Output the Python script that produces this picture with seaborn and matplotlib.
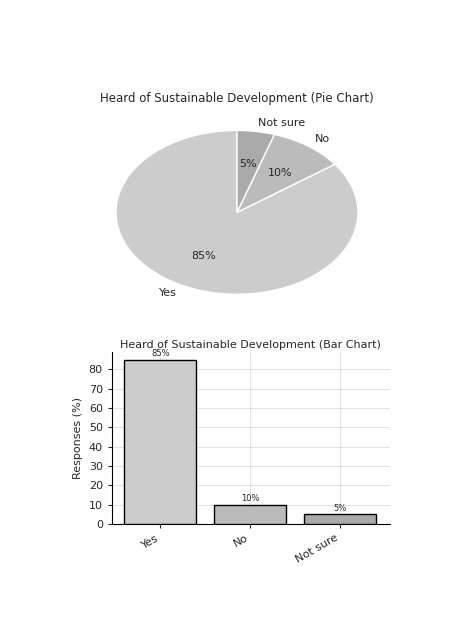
import matplotlib
matplotlib.use("Agg")
import matplotlib.pyplot as plt
import seaborn as sns
import pandas as pd

sns.set_style("white")
plt.rcParams['font.family'] = ['DejaVu Sans']

categories = ["Yes", "No", "Not sure"]
values = [85, 10, 5]
colors = ["#cccccc", "#bbbbbb", "#aaaaaa"]

fig = plt.figure(figsize=(4.74, 6.32), dpi=100)

# Pie
ax1 = fig.add_axes([0.181, 0.502, 0.638, 0.324])
ax1.pie(values, labels=categories, colors=colors, autopct='%1.0f%%', startangle=90,
        textprops={'fontsize': 8})
ax1.set_aspect('auto')
ax1.set_xlim(-1.25, 1.25); ax1.set_ylim(-1.25, 1.25)
ax1.set_title("Heard of Sustainable Development (Pie Chart)", fontsize=8.5, pad=6)

# Bar
ax2 = fig.add_axes([0.236, 0.171, 0.586, 0.272])
df = pd.DataFrame({"cat": categories, "val": values})
sns.barplot(data=df, x="cat", y="val", hue="cat", palette=colors, edgecolor="black",
            linewidth=1, width=0.8, ax=ax2, legend=False, zorder=3)
for i, v in enumerate(values):
    ax2.text(i, v + 0.8, f"{v}%", ha='center', va='bottom', fontsize=6)
ax2.set_xlim(-0.54, 2.55)
ax2.set_ylim(0, 89)
ax2.set_yticks(range(0, 81, 10))
ax2.grid(True, color="#dddddd", linewidth=0.6, zorder=0)
ax2.set_axisbelow(True)
ax2.set_xlabel("")
ax2.set_ylabel("Responses (%)", fontsize=8)
ax2.tick_params(axis='y', labelsize=8, left=True, length=3)
ax2.tick_params(axis='x', labelsize=8, bottom=True, length=3)
plt.setp(ax2.get_xticklabels(), rotation=30, ha='right')
for s in ["top", "right"]:
    ax2.spines[s].set_visible(False)
for s in ["left", "bottom"]:
    ax2.spines[s].set_color("black")
ax2.set_title("Heard of Sustainable Development (Bar Chart)", fontsize=8, pad=3)

fig.savefig("out.png", dpi=100)
